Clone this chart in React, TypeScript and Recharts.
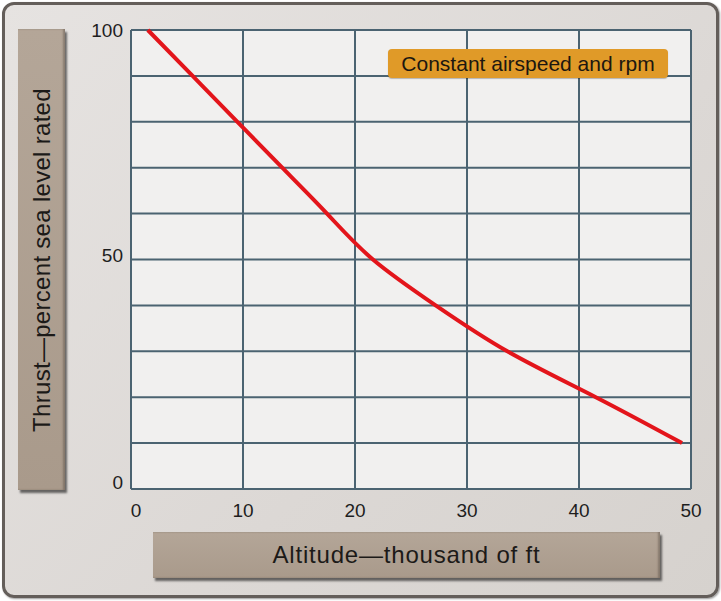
import { CartesianGrid, Line, LineChart, XAxis, YAxis } from "recharts";

const altitude = [1.5, 5.5, 9.5, 13.5, 17.5, 21.6, 27.2, 33.6, 41.5, 49.2];
const thrust = [100, 90, 80, 70, 60, 50, 40, 30, 20, 10];
const xTicks = [0, 10, 20, 30, 40, 50];
const yTicks = [0, 10, 20, 30, 40, 50, 60, 70, 80, 90, 100];
const yLabelled = [0, 50, 100];

const data = altitude.map((a, i) => ({ altitude: a, thrust: thrust[i] }));

const FONT = "'Liberation Sans', Arial, sans-serif";
const GRID = "#4b6371";

function YTick({ x, y, payload }: any) {
  if (!yLabelled.includes(payload.value)) return null;
  const dy = payload.value === 0 ? 0 : payload.value === 100 ? 7 : 2;
  return (
    <text x={x} y={y + dy} textAnchor="end" fontSize={19} fill="#1e1e1e" fontFamily={FONT}>
      {payload.value}
    </text>
  );
}

function XTick({ x, y, payload }: any) {
  const dx = payload.value === 0 ? 5 : 0;
  return (
    <text x={x + dx} y={y + 20} textAnchor="middle" fontSize={19} fill="#1e1e1e" fontFamily={FONT}>
      {payload.value}
    </text>
  );
}

const labelBox = {
  position: "absolute" as const,
  background: "linear-gradient(180deg, #b4a698 0%, #a99a8b 100%)",
  boxShadow: "2px 3px 2px rgba(0,0,0,0.55), inset -2px 0 2px rgba(60,50,40,0.35)",
  color: "#1c1a18",
  fontFamily: FONT,
  fontSize: 24,
  display: "flex",
  alignItems: "center",
  justifyContent: "center",
};

export default function App() {
  return (
    <div style={{ position: "absolute", left: 0, top: 0, width: 721, height: 601, background: "#fff" }}>
      <div
        style={{
          position: "absolute",
          left: 2,
          top: 2,
          width: 711,
          height: 590,
          border: "3px solid #645e5a",
          borderRadius: 12,
          background: "linear-gradient(135deg, #e6e3e1 0%, #dcd8d5 60%, #d6d2ce 100%)",
          boxShadow: "1px 1px 2px rgba(0,0,0,0.4)",
        }}
      />
      <div style={{ ...labelBox, left: 18, top: 29, width: 47, height: 461 }}>
        <span style={{ transform: "rotate(-90deg)", whiteSpace: "nowrap", letterSpacing: 0.3 }}>
          Thrust—percent sea level rated
        </span>
      </div>
      <div style={{ ...labelBox, left: 153, top: 532, width: 507, height: 46, letterSpacing: 0.8 }}>
        Altitude—thousand of ft
      </div>
      <div style={{ position: "absolute", left: 0, top: 0 }}>
        <LineChart width={721} height={601} data={data} margin={{ top: 30, right: 30, bottom: 82, left: 91 }}>
          <CartesianGrid
            stroke={GRID}
            strokeWidth={2}
            fill="#f1f0ef"
            horizontalValues={yTicks}
            verticalValues={xTicks}
          />
          <XAxis
            dataKey="altitude"
            type="number"
            domain={[0, 50]}
            ticks={xTicks}
            height={30}
            axisLine={{ stroke: GRID, strokeWidth: 2 }}
            tickLine={false}
            tick={<XTick />}
          />
          <YAxis
            type="number"
            domain={[0, 100]}
            ticks={yTicks}
            width={40}
            interval={0}
            axisLine={{ stroke: GRID, strokeWidth: 2 }}
            tickLine={false}
            tick={<YTick />}
          />
          <Line
            type="natural"
            dataKey="thrust"
            stroke="#e3151b"
            strokeWidth={4}
            dot={false}
            isAnimationActive={false}
          />
        </LineChart>
      </div>
      <div
        style={{
          position: "absolute",
          left: 388,
          top: 49,
          width: 280,
          height: 29,
          background: "#e09a28",
          borderRadius: 4,
          color: "#1c1710",
          fontFamily: FONT,
          fontSize: 21,
          lineHeight: "29px",
          textAlign: "center",
          boxShadow: "0 1px 1px rgba(0,0,0,0.25)",
        }}
      >
        Constant airspeed and rpm
      </div>
    </div>
  );
}
